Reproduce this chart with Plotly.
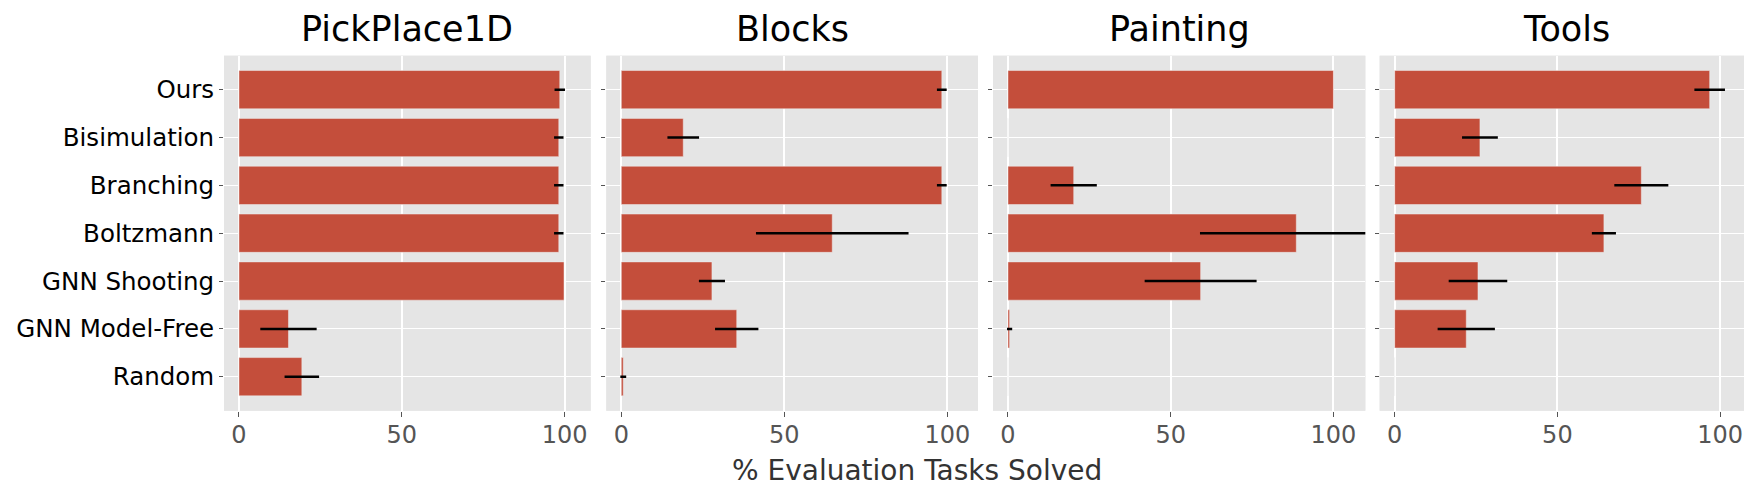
import plotly.graph_objects as go

methods = ["Ours", "Bisimulation", "Branching", "Boltzmann", "GNN Shooting", "GNN Model-Free", "Random"]
panels = ["PickPlace1D", "Blocks", "Painting", "Tools"]

pickplace_vals = [98.5, 98.2, 98.2, 98.2, 99.8, 15.2, 19.3]
pickplace_err = [1.6, 1.45, 1.45, 1.45, 0, 8.65, 5.3]
blocks_vals = [98.3, 19.0, 98.3, 64.7, 27.8, 35.4, 0.6]
blocks_err = [1.5, 4.85, 1.5, 23.4, 4.0, 6.65, 0.9]
painting_vals = [100.0, 0, 20.2, 88.6, 59.2, 0.5, 0]
painting_err = [0, 0, 7.1, 29.6, 17.2, 0.8, 0]
tools_vals = [96.8, 26.2, 75.8, 64.3, 25.6, 22.0, 0]
tools_err = [4.7, 5.5, 8.3, 3.7, 9.0, 8.8, 0]

x_ticks = [0, 50, 100]
x_label = "% Evaluation Tasks Solved"

vals = [pickplace_vals, blocks_vals, painting_vals, tools_vals]
errs = [pickplace_err, blocks_err, painting_err, tools_err]

W, H = 1752, 488
# pixel extents of each panel (left, right)
px = [(216, 582.7), (598.3, 970), (985, 1357.3), (1371.7, 1744.3)]
xranges = [[-4.6, 108.0], [-4.6, 109.4], [-4.6, 109.8], [-4.6, 109.9]]
ytop, ybot = 47.7, 402.7
ydom = [1 - ybot / H, 1 - ytop / H]

BAR = "#C44E3B"
BG = "#E5E5E5"
FONT = "DejaVu Sans"

fig = go.Figure()
annotations = []
for i in range(4):
    sfx = "" if i == 0 else str(i + 1)
    fig.add_trace(go.Bar(
        x=vals[i], y=methods, orientation="h",
        xaxis="x" + sfx, yaxis="y" + sfx,
        width=0.8,
        marker=dict(color=BAR, line=dict(color="#EEEEEE", width=0.5)),
        error_x=dict(type="data", array=errs[i], color="black", thickness=2.5, width=0),
        showlegend=False, hoverinfo="x+y",
    ))
    dom = [px[i][0] / W, px[i][1] / W]
    fig.layout["xaxis" + sfx] = dict(
        domain=dom, range=xranges[i], anchor="y" + sfx,
        tickvals=x_ticks, ticks="outside", ticklen=5, tickwidth=1, tickcolor="#555555",
        tickfont=dict(family=FONT, size=24, color="#555555"),
        ticklabelstandoff=-3,
        showgrid=True, gridcolor="white", gridwidth=1.5, zeroline=False,
        showline=False, fixedrange=True,
    )
    fig.layout["yaxis" + sfx] = dict(
        domain=ydom, anchor="x" + sfx, type="category",
        categoryorder="array", categoryarray=methods,
        range=[6.71, -0.71],
        ticks="outside", ticklen=4, tickwidth=1, tickcolor="#555555",
        showticklabels=(i == 0),
        tickfont=dict(family=FONT, size=24.5, color="black"),
        showgrid=True, gridcolor="white", gridwidth=1, zeroline=False,
        showline=False, fixedrange=True,
    )
    annotations.append(dict(
        text=panels[i], x=(dom[0] + dom[1]) / 2, y=1,
        xref="paper", yref="paper", xanchor="center", yanchor="top",
        showarrow=False, font=dict(family=FONT, size=35, color="black"),
        borderpad=0,
    ))

annotations.append(dict(
    text=x_label, x=909 / W, y=1 - 462 / H, xref="paper", yref="paper",
    xanchor="center", yanchor="middle", showarrow=False,
    font=dict(family=FONT, size=28, color="#333333"),
))

# panel backgrounds
shapes = []
for i in range(4):
    shapes.append(dict(type="rect", xref="paper", yref="paper", layer="below",
                       x0=px[i][0] / W, x1=px[i][1] / W, y0=ydom[0], y1=ydom[1],
                       fillcolor=BG, line=dict(width=0)))

fig.update_layout(
    width=W, height=H,
    margin=dict(l=0, r=0, t=0, b=0),
    paper_bgcolor="white", plot_bgcolor=BG,
    annotations=annotations, shapes=shapes,
    font=dict(family=FONT),
    bargap=0.2,
)

fig.write_html("out.html")
